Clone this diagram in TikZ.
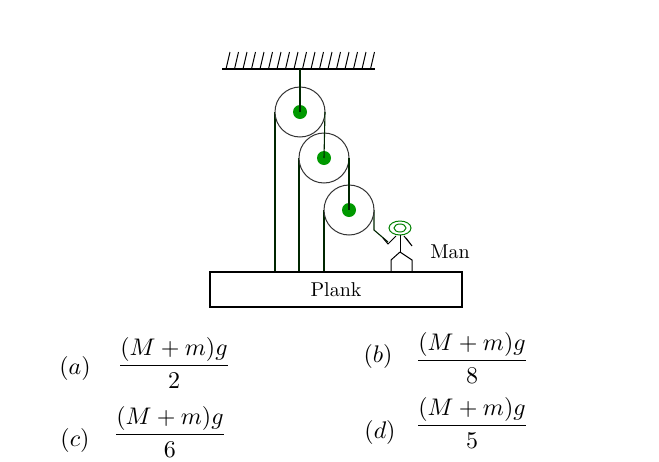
\documentclass[tikz,border=0pt]{standalone}
\usepackage{amsmath}
\newcommand{\bigtxt}[1]{\scalebox{2.0}{#1}}
\newcommand{\bigopt}[1]{\scalebox{2.4}{#1}}
\begin{document}
\begin{tikzpicture}[x=1pt,y=-1pt,line width=1.1pt,
  rope/.style={draw=black!85!green},
  pul/.style={draw=black!80,fill=white,line width=1pt},
  axle/.style={fill=green!60!black},
  lbl/.style={inner sep=0pt},
  opt/.style={inner sep=0pt}]
\useasboundingbox (0,0) rectangle (659,461);
% ceiling
\draw (222,69) -- (375,69);
\foreach \i in {0,...,17} \draw[line width=1pt] (226+\i*8.5,69) -- (230+\i*8.5,52);
% pulleys
\coordinate (c1) at (300,112);
\coordinate (c2) at (324,158);
\coordinate (c3) at (349,210);
\draw[rope] (275,112) -- (275,272);
\draw[rope] (299,158) -- (299,272);
\draw[rope] (324,210) -- (324,272);
\draw[rope] (374,210) -- (374,230) -- (388,242);
\draw[pul] (c1) circle (25);
\draw[pul] (c2) circle (25);
\draw[pul] (c3) circle (25);
\fill[axle] (c1) circle (7);
\fill[axle] (c2) circle (7);
\fill[axle] (c3) circle (7);
\draw[rope] (300,69) -- (c1);
\draw[rope] (325,112) -- (c2);
\draw[rope] (349,158) -- (c3);
% man
\draw[draw=green!50!black,line width=1pt] (400,228) ellipse (11 and 7);
\draw[draw=green!50!black,line width=1pt] (400,228) ellipse (6 and 4);
\draw[line width=1pt] (400,235) -- (400,252);
\draw[line width=1pt] (396,236) -- (388,244) -- (383,238);
\draw[line width=1pt] (404,236) -- (412,246) -- (406,238);
\draw[line width=1pt] (400,252) -- (391,260) -- (391,272);
\draw[line width=1pt] (400,252) -- (412,260) -- (412,272);
\node[lbl] (man) at (450,252) {\bigtxt{Man}};
% plank
\draw (210,272) rectangle (462,307);
\node[lbl] (plank) at (336,290) {\bigtxt{Plank}};
% options
\node[opt] (a) at (75,368) {\bigopt{$(a)$}};
\node[opt] (fa) at (174,363) {\bigopt{$\dfrac{(M+m)g}{2}$}};
\node[opt] (b) at (378,356) {\bigopt{$(b)$}};
\node[opt] (fb) at (472,358) {\bigopt{$\dfrac{(M+m)g}{8}$}};
\node[opt] (c) at (75,440) {\bigopt{$(c)$}};
\node[opt] (fc) at (170,432) {\bigopt{$\dfrac{(M+m)g}{6}$}};
\node[opt] (d) at (380,432) {\bigopt{$(d)$}};
\node[opt] (fd) at (472,423) {\bigopt{$\dfrac{(M+m)g}{5}$}};
\end{tikzpicture}
\end{document}
